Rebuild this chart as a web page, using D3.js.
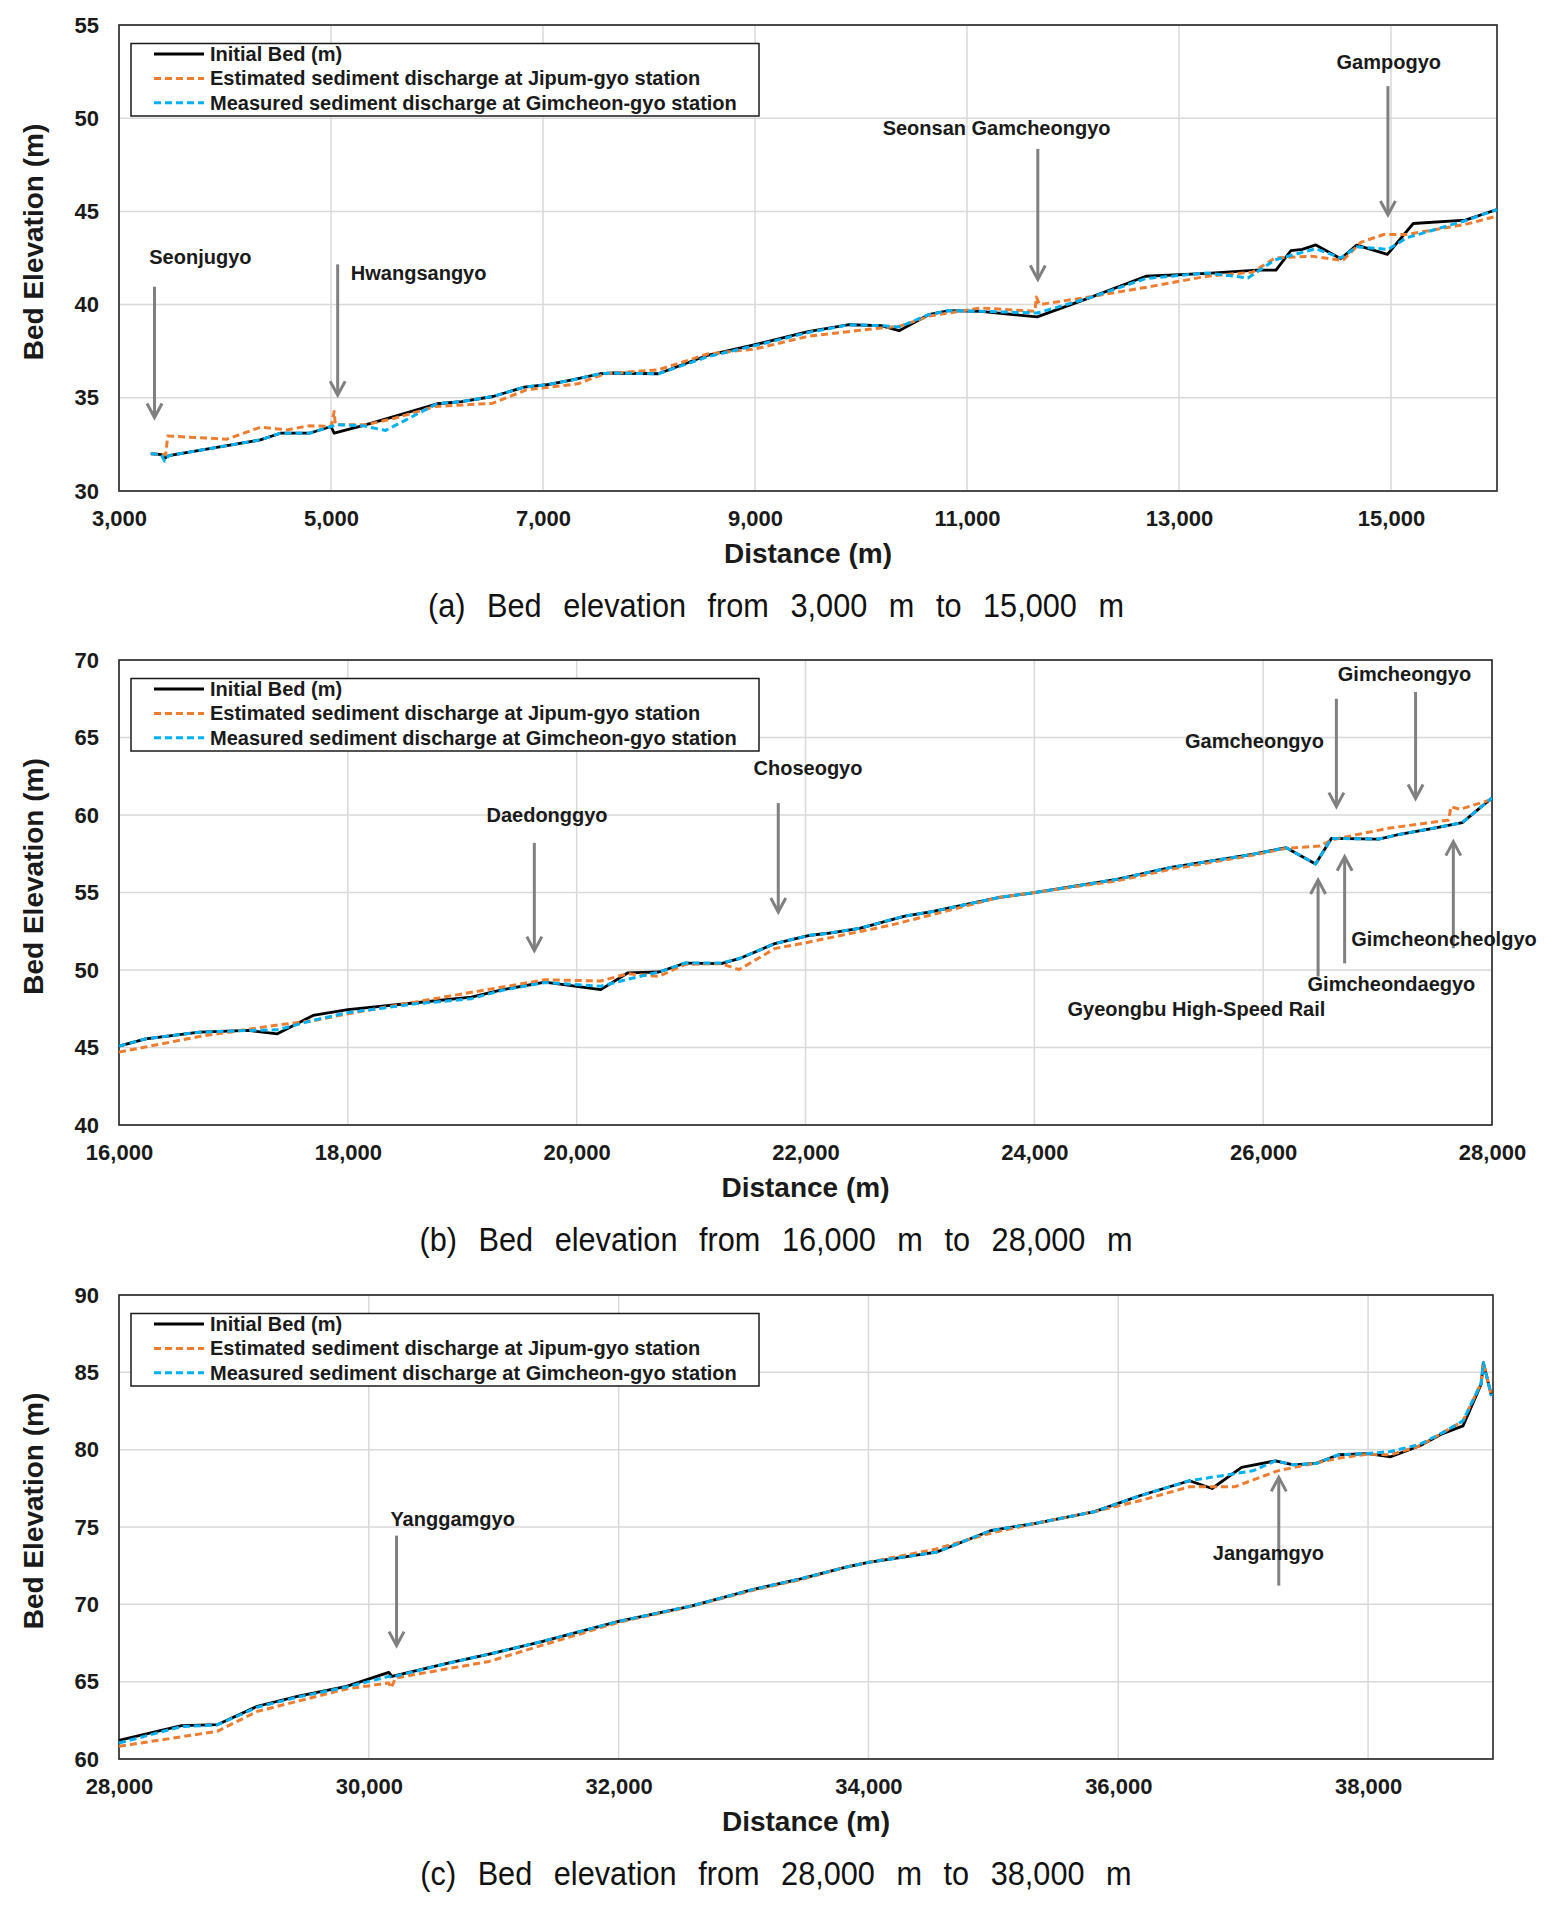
<!DOCTYPE html>
<html>
<head>
<meta charset="utf-8">
<script src="https://cdn.jsdelivr.net/npm/d3@7"></script>
<style>
  body { margin: 0; background: #fff; }
  svg text { font-family: "Liberation Sans", Arial, sans-serif; }
</style>
</head>
<body>
<div id="chart"></div>
<script>
// ---- data (distance m, bed elevation m) ----
var seriesNames = ["Initial Bed (m)",
  "Estimated sediment discharge at Jipum-gyo station",
  "Measured sediment discharge at Gimcheon-gyo station"];

// (a) 3,000 - 16,000 m
var initialA = [[3300,32.0],[3400,31.95],[3430,31.75],[3470,31.9],[4333,32.74],[4523,33.1],[4797,33.1],[5000,33.46],[5030,33.1],[5325,33.55],[5600,34.0],[6000,34.68],[6232,34.8],[6527,35.07],[6823,35.57],[7034,35.7],[7287,35.97],[7540,36.29],[7667,36.33],[8088,36.29],[8552,37.28],[9000,37.85],[9500,38.55],[9889,38.92],[10188,38.87],[10359,38.6],[10637,39.46],[10829,39.68],[11128,39.64],[11662,39.34],[12154,40.36],[12688,41.52],[13265,41.67],[13735,41.85],[13915,41.85],[14056,42.9],[14163,42.96],[14291,43.2],[14526,42.46],[14676,43.19],[14966,42.69],[15210,44.35],[15701,44.53],[16000,45.1]];
var estimatedA = [[3300,32.0],[3440,31.95],[3460,32.95],[4017,32.78],[4333,33.42],[4587,33.28],[4797,33.5],[5000,33.46],[5030,34.27],[5040,33.55],[5325,33.55],[5600,33.9],[5979,34.53],[6527,34.71],[6844,35.43],[7329,35.75],[7582,36.29],[8088,36.5],[8552,37.35],[9000,37.62],[9500,38.3],[10188,38.75],[10359,38.83],[10658,39.4],[11128,39.82],[11640,39.64],[11655,40.41],[11684,40.0],[12154,40.41],[12752,40.99],[13265,41.52],[13693,41.74],[13906,42.5],[14248,42.6],[14547,42.37],[14718,43.35],[14932,43.76],[15146,43.76],[15701,44.3],[16000,44.75]];
var measuredA = [[3300,32.0],[3400,31.95],[3430,31.6],[3470,31.9],[4333,32.74],[4523,33.1],[4797,33.1],[5000,33.46],[5060,33.55],[5300,33.5],[5515,33.25],[6000,34.68],[6232,34.8],[6527,35.07],[6823,35.57],[7034,35.7],[7287,35.97],[7540,36.29],[7667,36.33],[8088,36.29],[8552,37.2],[9000,37.8],[9500,38.5],[9889,38.92],[10188,38.87],[10359,38.8],[10637,39.46],[10829,39.68],[11128,39.64],[11662,39.55],[12154,40.36],[12688,41.4],[13265,41.7],[13650,41.43],[13906,42.4],[14291,43.0],[14526,42.5],[14676,43.1],[14974,42.96],[15146,43.58],[15701,44.5],[16000,45.1]];

// (b) 16,000 - 28,000 m
var initialB = [[16000,45.09],[16234,45.56],[16702,45.99],[17130,46.1],[17384,45.88],[17696,47.07],[18000,47.44],[18573,47.87],[19080,48.25],[19353,48.73],[19723,49.22],[20211,48.73],[20445,49.81],[20718,49.87],[20951,50.45],[21263,50.41],[21419,50.73],[21731,51.7],[22035,52.24],[22197,52.37],[22473,52.69],[22868,53.48],[23105,53.76],[23696,54.69],[24000,54.99],[24722,55.85],[25195,56.62],[25905,57.46],[26201,57.89],[26458,56.84],[26596,58.49],[27010,58.45],[27168,58.71],[27484,59.14],[27740,59.51],[28000,61.1]];
var estimatedB = [[16000,44.7],[16702,45.71],[17404,46.47],[17715,46.75],[18000,47.18],[19041,48.51],[19723,49.37],[20211,49.29],[20445,49.76],[20718,49.59],[20951,50.37],[21263,50.41],[21419,50.02],[21731,51.38],[22035,51.81],[22750,52.9],[23696,54.69],[24000,55.0],[24722,55.75],[25195,56.5],[25905,57.4],[26201,57.85],[26497,58.0],[26596,58.39],[27089,59.14],[27622,59.68],[27640,60.54],[27720,60.37],[28000,61.0]];
var measuredB = [[16000,45.09],[16234,45.56],[16702,45.99],[17130,46.1],[17384,46.14],[17696,46.75],[18000,47.25],[18573,47.8],[19080,48.15],[19353,48.7],[19723,49.2],[20211,48.95],[20445,49.4],[20718,49.87],[20951,50.45],[21263,50.45],[21419,50.73],[21731,51.7],[22035,52.24],[22197,52.37],[22473,52.69],[22868,53.48],[23105,53.76],[23696,54.69],[24000,54.99],[24722,55.85],[25195,56.62],[25905,57.46],[26201,57.89],[26458,56.84],[26596,58.49],[27010,58.45],[27168,58.71],[27484,59.14],[27740,59.51],[28000,61.1]];

// (c) 28,000 - 39,000 m
var initialC = [[28000,61.21],[28500,62.16],[28786,62.22],[29107,63.41],[29428,64.05],[29821,64.7],[30160,65.6],[30185,65.34],[30643,66.21],[31000,66.85],[31393,67.61],[32000,68.9],[32571,69.87],[33071,70.95],[33457,71.65],[33819,72.4],[34000,72.72],[34543,73.37],[34977,74.76],[35339,75.24],[35810,75.99],[36172,77.02],[36570,77.99],[36751,77.49],[36987,78.85],[37258,79.28],[37403,79.02],[37584,79.11],[37765,79.67],[38000,79.75],[38181,79.54],[38416,80.25],[38597,81.04],[38760,81.54],[38905,84.23],[38923,85.62],[38988,83.47]];
var estimatedC = [[28000,60.82],[28786,61.79],[29107,63.08],[29821,64.53],[30160,64.91],[30178,64.59],[30214,65.24],[30964,66.31],[31357,67.28],[32000,68.84],[32571,69.85],[33071,70.9],[33457,71.6],[33819,72.4],[34000,72.72],[34543,73.58],[34977,74.6],[35339,75.24],[35810,75.99],[36172,76.7],[36570,77.6],[36932,77.6],[37276,78.63],[37765,79.45],[38000,79.71],[38181,79.67],[38416,80.25],[38597,81.1],[38760,81.86],[38905,84.3],[38923,85.62],[38988,83.47]];
var measuredC = [[28000,61.03],[28500,62.1],[28786,62.2],[29107,63.35],[29428,64.0],[29821,64.65],[30160,65.34],[30185,65.3],[30643,66.21],[31000,66.85],[31393,67.61],[32000,68.9],[32571,69.87],[33071,70.95],[33457,71.65],[33819,72.4],[34000,72.72],[34543,73.37],[34977,74.76],[35339,75.24],[35810,75.99],[36172,77.02],[36570,77.99],[37077,78.63],[37258,79.28],[37403,79.02],[37584,79.11],[37765,79.67],[38000,79.75],[38181,79.88],[38416,80.35],[38597,81.1],[38760,81.86],[38905,84.3],[38923,85.62],[38988,83.47]];

// tick values
var xTicksA = [3000, 5000, 7000, 9000, 11000, 13000, 15000];
var xTicksB = [16000, 18000, 20000, 22000, 24000, 26000, 28000];
var xTicksC = [28000, 30000, 32000, 34000, 36000, 38000];
var yTicksA = [30, 35, 40, 45, 50, 55];
var yTicksB = [40, 45, 50, 55, 60, 65, 70];
var yTicksC = [60, 65, 70, 75, 80, 85, 90];

// bridge labels: arrow at distance, from elevation -> to elevation (tip), label centre
var bridgesA = [
  {name: "Seonjugyo", at: 3335, from: 40.96, to: 33.94, lx: 3768, ly: 42.53},
  {name: "Hwangsangyo", at: 5063, from: 42.16, to: 35.14, lx: 5827, ly: 41.71},
  {name: "Seonsan Gamcheongyo", at: 11668, from: 48.35, to: 41.35, lx: 11279, ly: 49.45},
  {name: "Gampogyo", at: 14971, from: 51.72, to: 44.81, lx: 14979, ly: 53.0}
];
var bridgesB = [
  {name: "Daedonggyo", at: 19630, from: 58.2, to: 51.25, lx: 19741, ly: 60.0},
  {name: "Choseogyo", at: 21762, from: 60.77, to: 53.74, lx: 22022, ly: 63.06},
  {name: "Gamcheongyo", at: 26640, from: 67.5, to: 60.54, lx: 25924, ly: 64.75},
  {name: "Gimcheongyo", at: 27332, from: 67.94, to: 61.06, lx: 27235, ly: 69.1},
  {name: "Gyeongbu High-Speed Rail", at: 26480, from: 49.58, to: 55.81, lx: 25417, ly: 47.5},
  {name: "Gimcheondaegyo", at: 26712, from: 50.43, to: 57.31, lx: 27121, ly: 49.08},
  {name: "Gimcheoncheolgyo", at: 27662, from: 51.4, to: 58.28, lx: 27580, ly: 51.97}
];
var bridgesC = [
  {name: "Yanggamgyo", at: 30222, from: 74.44, to: 67.33, lx: 30671, ly: 75.54},
  {name: "Jangamgyo", at: 37285, from: 71.21, to: 78.21, lx: 37202, ly: 73.32}
];

var captions = [
  "(a) Bed elevation from 3,000 m to 15,000 m",
  "(b) Bed elevation from 16,000 m to 28,000 m",
  "(c) Bed elevation from 28,000 m to 38,000 m"
];

var lineColors = ["#000000", "#ED7D31", "#00B0F0"];

// ---- layout ----
var svgWidth = 1551;
var svgHeight = 1916;

var svg = d3.select("#chart")
  .append("svg")
  .attr("width", svgWidth)
  .attr("height", svgHeight);

svg.append("rect").attr("width", svgWidth).attr("height", svgHeight).attr("fill", "#fff");

var panels = [
  {top: 25, bottom: 491, left: 119, right: 1497, xDomain: [3000, 16000], yDomain: [30, 55],
   xTicks: xTicksA, yTicks: yTicksA, series: [initialA, estimatedA, measuredA], bridges: bridgesA, caption: captions[0]},
  {top: 660, bottom: 1125, left: 119, right: 1492, xDomain: [16000, 28000], yDomain: [40, 70],
   xTicks: xTicksB, yTicks: yTicksB, series: [initialB, estimatedB, measuredB], bridges: bridgesB, caption: captions[1]},
  {top: 1295, bottom: 1759, left: 119, right: 1493, xDomain: [28000, 39000], yDomain: [60, 90],
   xTicks: xTicksC, yTicks: yTicksC, series: [initialC, estimatedC, measuredC], bridges: bridgesC, caption: captions[2]}
];

panels.forEach(drawPanel);

function drawPanel(p) {
  var x = d3.scaleLinear().domain(p.xDomain).range([p.left, p.right]);
  var y = d3.scaleLinear().domain(p.yDomain).range([p.bottom, p.top]);
  var g = svg.append("g");

  // gridlines
  g.selectAll(".vgrid").data(p.xTicks).enter().append("line")
    .attr("x1", d => x(d)).attr("x2", d => x(d))
    .attr("y1", p.top).attr("y2", p.bottom)
    .attr("stroke", "#d9d9d9").attr("stroke-width", 1.5);
  g.selectAll(".hgrid").data(p.yTicks).enter().append("line")
    .attr("x1", p.left).attr("x2", p.right)
    .attr("y1", d => y(d)).attr("y2", d => y(d))
    .attr("stroke", "#d9d9d9").attr("stroke-width", 1.5);

  // axes (labels only, Excel style)
  var xAxis = g.append("g")
    .attr("transform", `translate(0, ${p.bottom})`)
    .call(d3.axisBottom(x).tickValues(p.xTicks).tickFormat(d3.format(",")).tickSize(0).tickPadding(19));
  var yAxis = g.append("g")
    .attr("transform", `translate(${p.left}, 0)`)
    .call(d3.axisLeft(y).tickValues(p.yTicks).tickSize(0).tickPadding(20));
  [xAxis, yAxis].forEach(function(a) {
    a.select(".domain").remove();
    a.selectAll("text")
      .style("font-size", "22px")
      .style("font-weight", "bold")
      .style("font-family", "'Liberation Sans', Arial, sans-serif")
      .attr("fill", "#1a1a1a");
  });

  // plot border
  g.append("rect")
    .attr("x", p.left).attr("y", p.top)
    .attr("width", p.right - p.left).attr("height", p.bottom - p.top)
    .attr("fill", "none").attr("stroke", "#262626").attr("stroke-width", 1.6);

  // lines: initial, estimated, measured
  var line = d3.line().x(d => x(d[0])).y(d => y(d[1]));
  p.series.forEach(function(s, i) {
    g.append("path")
      .datum(s)
      .attr("d", line)
      .attr("fill", "none")
      .attr("stroke", lineColors[i])
      .attr("stroke-width", i === 0 ? 2.8 : 3)
      .attr("stroke-linejoin", "round")
      .attr("stroke-dasharray", i === 0 ? null : "7,4");
  });

  // bridge arrows and labels
  p.bridges.forEach(function(b) {
    var ax = x(b.at), y0 = y(b.from), y1 = y(b.to);
    var dir = y1 > y0 ? 1 : -1;
    g.append("line")
      .attr("x1", ax).attr("x2", ax).attr("y1", y0).attr("y2", y1 - dir * 1)
      .attr("stroke", "#808080").attr("stroke-width", 3);
    g.append("path")
      .attr("d", `M${ax - 7.5},${y1 - dir * 14} L${ax},${y1} L${ax + 7.5},${y1 - dir * 14}`)
      .attr("fill", "none").attr("stroke", "#808080").attr("stroke-width", 3);
    g.append("text")
      .attr("x", x(b.lx)).attr("y", y(b.ly)).attr("dy", "0.35em")
      .attr("text-anchor", "middle")
      .style("font-size", "20px").style("font-weight", "bold")
      .attr("fill", "#1a1a1a")
      .text(b.name);
  });

  // legend
  var lg = g.append("g").attr("transform", `translate(${p.left}, ${p.top})`);
  lg.append("rect")
    .attr("x", 12).attr("y", 18.5).attr("width", 628).attr("height", 72.5)
    .attr("fill", "#fff").attr("stroke", "#1a1a1a").attr("stroke-width", 1.5);
  seriesNames.forEach(function(name, i) {
    var ry = 29 + i * 24.4;
    lg.append("line")
      .attr("x1", 35).attr("x2", 85).attr("y1", ry).attr("y2", ry)
      .attr("stroke", lineColors[i]).attr("stroke-width", i === 0 ? 2.8 : 3)
      .attr("stroke-dasharray", i === 0 ? null : "7,4");
    lg.append("text")
      .attr("x", 91).attr("y", ry).attr("dy", "0.35em")
      .style("font-size", "20px").style("font-weight", "bold")
      .attr("fill", "#1a1a1a")
      .text(name);
  });

  // axis titles
  g.append("text")
    .attr("x", (p.left + p.right) / 2).attr("y", p.bottom + 72)
    .attr("text-anchor", "middle")
    .style("font-size", "28px").style("font-weight", "bold")
    .attr("fill", "#1a1a1a")
    .text("Distance (m)");
  g.append("text")
    .attr("transform", `translate(43, ${(p.top + p.bottom) / 2 - 16}) rotate(-90)`)
    .attr("text-anchor", "middle")
    .style("font-size", "28px").style("font-weight", "bold")
    .attr("fill", "#1a1a1a")
    .text("Bed Elevation (m)");

  // caption
  g.append("text")
    .attr("transform", `translate(776, ${p.bottom + 126}) scale(0.93, 1)`)
    .attr("text-anchor", "middle")
    .style("font-size", "33px")
    .style("word-spacing", "14px")
    .attr("fill", "#111")
    .text(p.caption);
}
</script>
</body>
</html>
